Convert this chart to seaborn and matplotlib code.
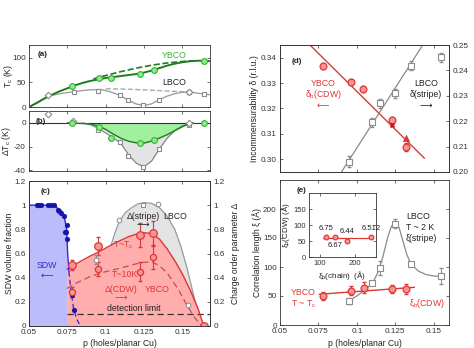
import numpy as np
import pandas as pd
import matplotlib
matplotlib.use('Agg')
import matplotlib.pyplot as plt
import seaborn as sns

# ---------------- data ----------------
# (a) Tc vs p
a_yb_p = [0.078, 0.0956, 0.1037, 0.1224, 0.1316, 0.1638]
a_yb_tc = [42, 59, 58, 68, 75, 94]
a_lb_p = [0.0793, 0.0952, 0.1093, 0.1146, 0.1246, 0.1348, 0.1544, 0.1638]
a_lb_tc = [30.6, 32, 24, 13.7, 3.5, 15, 30.6, 26]
a_dia_p = [0.0623, 0.1544]
a_dia_tc = [24, 30.6]
a_ybline_p = [0.05, 0.055, 0.06, 0.065, 0.07, 0.075, 0.08, 0.085, 0.09, 0.095, 0.1, 0.105, 0.11,
              0.115, 0.12, 0.125, 0.13, 0.135, 0.14, 0.145, 0.15, 0.155, 0.16, 0.165, 0.168]
a_ybline_tc = [0, 8, 17, 25, 32, 38, 44, 49, 53, 56, 59, 61, 63, 65, 67, 70, 74, 79, 84, 88, 91, 93, 94, 94, 93]
a_ybdash_p = [0.092, 0.1, 0.11, 0.12, 0.13, 0.14, 0.15, 0.157]
a_ybdash_tc = [57, 64, 72, 79, 85, 89.5, 92.5, 94]
a_lbline_p = [0.05, 0.056, 0.0623, 0.07, 0.079, 0.085, 0.09, 0.097, 0.103, 0.109, 0.115, 0.12, 0.125,
              0.13, 0.135, 0.14, 0.145, 0.15, 0.155, 0.16, 0.168]
a_lbline_tc = [0, 11, 22, 27, 31, 33.5, 35, 35.5, 31, 24, 13.5, 6, 3, 6.5, 15, 22, 27, 30, 30.5, 28, 25]
a_lbdash_p = [0.1, 0.11, 0.12, 0.13, 0.14, 0.15, 0.155]
a_lbdash_tc = [37, 36.5, 35.5, 34, 32.5, 31, 30.5]

# (b) Delta Tc vs p
b_yb_p = [0.078, 0.0956, 0.1037, 0.1224, 0.1316, 0.1638]
b_yb_dtc = [0, -3.7, -12.6, -17.1, -14.3, 0]
b_lb_p = [0.0952, 0.1093, 0.1146, 0.1246, 0.1348, 0.1544]
b_lb_dtc = [-5.6, -16.3, -27.5, -37.3, -21.8, -1.4]
b_dia_p = [0.0623, 0.079, 0.1544]
b_dia_dtc = [7.6, 2, 0]
b_ybline_p = [0.075, 0.085, 0.09, 0.095, 0.1, 0.105, 0.11, 0.115, 0.12, 0.125, 0.13, 0.135, 0.14,
              0.145, 0.15, 0.155, 0.157]
b_ybline_d = [0, -0.5, -1, -2.5, -5.5, -9.5, -13, -15.5, -16.8, -17, -15.3, -12.8, -10, -6.5, -3.2, -0.5, 0]
b_lbline_p = [0.085, 0.09, 0.095, 0.1, 0.105, 0.11, 0.115, 0.12, 0.125, 0.13, 0.135, 0.14, 0.145,
              0.15, 0.155, 0.157]
b_lbline_d = [0, -1.5, -4.5, -8.5, -12.5, -17.5, -27, -34, -37, -32, -22, -13, -6.5, -2.5, -0.3, 0]

# (c) SDW volume fraction and charge order parameter
c_sdw_p = [0.0555, 0.0565, 0.0575, 0.0625, 0.0645, 0.0665, 0.0691, 0.0697, 0.0706, 0.0728,
           0.0747, 0.0736, 0.0744, 0.0747, 0.0778, 0.0793]
c_sdw_v = [1, 1, 1, 1, 1, 1, 0.964, 0.948, 0.936, 0.911, 0.834, 0.779, 0.779, 0.724, 0.26, 0.136]
c_sdwline_p = [0.05, 0.0665, 0.069, 0.071, 0.073, 0.0745, 0.0752, 0.076]
c_sdwline_v = [1, 1, 0.97, 0.935, 0.905, 0.8, 0.6, 0.45]
c_sdwdash_p = [0.076, 0.0775, 0.079, 0.081, 0.0835]
c_sdwdash_v = [0.45, 0.28, 0.15, 0.06, 0]
c_tc_line_p = [0.0747, 0.08, 0.085, 0.09, 0.095, 0.1, 0.105, 0.11, 0.115, 0.12, 0.125, 0.13, 0.135,
               0.14, 0.146, 0.15, 0.155, 0.16, 0.164]
c_tc_line_v = [0.47, 0.51, 0.545, 0.58, 0.61, 0.645, 0.68, 0.71, 0.74, 0.76, 0.772, 0.765, 0.72,
               0.64, 0.52, 0.43, 0.3, 0.15, 0]
c_10k_line_p = [0.0747, 0.08, 0.085, 0.09, 0.095, 0.1, 0.11, 0.12, 0.125, 0.13, 0.135, 0.14, 0.147,
                0.153, 0.158, 0.1625]
c_10k_line_v = [0.31, 0.35, 0.38, 0.41, 0.43, 0.45, 0.48, 0.515, 0.527, 0.53, 0.5, 0.44, 0.31, 0.17, 0.07, 0]
c_str_line_p = [0.097, 0.1, 0.103, 0.106, 0.109, 0.113, 0.117, 0.121, 0.125, 0.13, 0.135, 0.14,
                0.145, 0.149, 0.153, 0.157, 0.1605, 0.162]
c_str_line_v = [0.45, 0.56, 0.65, 0.77, 0.87, 0.94, 0.98, 1.01, 1.022, 1.015, 0.98, 0.91, 0.8, 0.66,
                0.48, 0.27, 0.1, 0]
c_tc_p = [0.0778, 0.0951, 0.1223, 0.131, 0.164]
c_tc_v = [0.503, 0.663, 0.751, 0.766, 0.0]
c_tc_err = [0.04, 0.075, 0.1, 0.1, 0.0]
c_10k_p = [0.0778, 0.0951, 0.1223, 0.131]
c_10k_v = [0.282, 0.47, 0.45, 0.57]
c_10k_err = [0.04, 0.06, 0.08, 0.1]
c_str_circ_p = [0.094, 0.1088, 0.1338, 0.1537]
c_str_circ_v = [0.55, 0.88, 1.01, 0.17]
c_str_sq_p = [0.1244]
c_str_sq_v = [1.0]
c_detect = 0.1

# (d) incommensurability
d_yb_p = [0.078, 0.096, 0.104, 0.123]
d_yb_d = [0.3367, 0.3304, 0.3278, 0.3154]
d_yb_err = [0.0012, 0.0012, 0.0012, 0.0012]
d_yb2_p = [0.1317]
d_yb2_d = [0.3049]
d_ybx_p = [0.123]
d_ybx_d = [0.3137]
d_ybtri_p = [0.1317]
d_ybtri_d = [0.3082]
d_ybfit_p = [0.068, 0.144]
d_ybfit_d = [0.3459, 0.3004]
d_lb_p = [0.095, 0.11, 0.115, 0.125, 0.135, 0.155]
d_lb_d = [0.2041, 0.2196, 0.227, 0.231, 0.2419, 0.2452]
d_lb_err = [0.0022, 0.0018, 0.0018, 0.0018, 0.0018, 0.0018]
d_lbfit_p = [0.090, 0.1429]
d_lbfit_d = [0.20, 0.25]

# (e) correlation length
e_yb_p = [0.078, 0.096, 0.1045, 0.123, 0.1317]
e_yb_xi = [50.7, 59.3, 64.5, 62.3, 62.3]
e_yb_err = [7, 8, 9, 7, 9]
e_ybfit_p = [0.0756, 0.1375]
e_ybfit_xi = [53, 65]
e_lb_p = [0.095, 0.110, 0.115, 0.125, 0.135, 0.155]
e_lb_xi = [41.5, 73, 99, 174.7, 105.5, 85]
e_lb_err = [5, 3, 12, 8, 3, 14]
e_lbline_p = [0.095, 0.1, 0.104, 0.108, 0.111, 0.114, 0.117, 0.12, 0.1225, 0.125, 0.1275, 0.13,
              0.1325, 0.135, 0.14, 0.145, 0.15, 0.155]
e_lbline_xi = [42, 50, 58, 67, 76, 92, 118, 150, 170, 176, 168, 145, 122, 106, 93, 87, 84.5, 84]
ins_chain = [119, 145, 178, 245]
ins_cdw = [62, 62, 51, 62]
ins_labels = ['6.75', '6.67', '6.44', '6.512']
ins_fit_x = [111, 248]
ins_fit_y = [60, 60]

p_ticks = [0.05, 0.075, 0.1, 0.125, 0.15]
p_ticklabels = ['0.05', '0.075', '0.1', '0.125', '0.15']

# ---------------- style ----------------
sns.set_style('ticks')
plt.rcParams['font.family'] = ['Liberation Sans', 'DejaVu Sans']
plt.rcParams['mathtext.fontset'] = 'custom'
plt.rcParams['mathtext.rm'] = 'Liberation Sans'
plt.rcParams['mathtext.it'] = 'Liberation Sans:italic'
plt.rcParams['axes.unicode_minus'] = False
plt.rcParams['font.size'] = 6
for k in ['xtick', 'ytick']:
    plt.rcParams[k + '.direction'] = 'in'
    plt.rcParams[k + '.major.size'] = 2.2
    plt.rcParams[k + '.major.width'] = 0.5
    plt.rcParams[k + '.labelsize'] = 5.9
    plt.rcParams[k + '.major.pad'] = 2.3
    plt.rcParams[k + '.color'] = '#333333'
plt.rcParams['axes.linewidth'] = 0.6
plt.rcParams['axes.edgecolor'] = '#333333'
plt.rcParams['axes.labelsize'] = 6.2
plt.rcParams['text.color'] = '#222222'
plt.rcParams['axes.labelcolor'] = '#222222'

FS = 6.3
GREEN_LINE = '#1e7d1e'
GREEN = '#2fb52f'
GREEN_FACE = '#90ea90'
GREEN_FILL = '#a0f0a0'
GRAY = '#8c8c8c'
GRAY_FILL = '#e4e4e4'
RED = '#e03535'
RED_FACE = '#f59595'
PINK = '#ffadad'
BLUE_FILL = '#bcbcfb'
BLUE = '#1414a8'
BLUE_LINE = '#2a2ad0'

W, H = 474, 348
fig = plt.figure(figsize=(W / 100, H / 100), dpi=100)


def ax_at(l, t, r, b):
    return fig.add_axes([l / W, 1 - b / H, (r - l) / W, (b - t) / H])


def line(ax, x, y, color, lw=1.0, ls='-', z=3):
    sns.lineplot(x=x, y=y, ax=ax, color=color, lw=lw, linestyle=ls, estimator=None,
                 sort=False, zorder=z)


def pts(ax, x, y, marker, face, edge, s=16, lw=0.8, z=5):
    sns.scatterplot(x=x, y=y, ax=ax, marker=marker, s=s, color=face, edgecolor=edge,
                    linewidth=lw, zorder=z, legend=False)


def boxed(ax):
    ax.tick_params(top=True, right=True)


# ---------------- (a) ----------------
axa = ax_at(29, 45, 210, 107)
line(axa, a_lbdash_p, a_lbdash_tc, '#aaaaaa', 1.0, '--')
line(axa, a_lbline_p, a_lbline_tc, '#a0a0a0', 1.0)
line(axa, a_ybdash_p, a_ybdash_tc, GREEN_LINE, 1.2, '--')
line(axa, a_ybline_p, a_ybline_tc, GREEN_LINE, 1.4)
pts(axa, a_lb_p, a_lb_tc, 's', 'white', GRAY, s=12)
pts(axa, a_dia_p, a_dia_tc, 'D', 'white', GRAY, s=11)
pts(axa, a_yb_p, a_yb_tc, 'o', GREEN_FACE, GREEN, s=17)
axa.set_xlim(0.05, 0.168)
axa.set_ylim(0, 126)
axa.set_yticks([0, 50, 100])
axa.set_xticks(p_ticks)
axa.set_xticklabels([])
axa.set_xlabel('')
axa.set_ylabel('T$_\\mathrm{c}$ (K)')
axa.yaxis.set_label_coords(-0.08, 0.5)
boxed(axa)
axa.text(0.05, 0.84, '(a)', transform=axa.transAxes, fontsize=5.8, fontweight='bold', va='center')
axa.text(0.1446, 105.5, 'YBCO', color=GREEN, ha='center', va='center', fontsize=FS)
axa.text(0.1446, 49, 'LBCO', color='#222222', ha='center', va='center', fontsize=FS)

# ---------------- (b) ----------------
axb = ax_at(29, 111, 210, 171)
axb.fill_between(b_lbline_p, 0, b_lbline_d, color=GRAY_FILL, lw=0, zorder=1)
axb.fill_between(b_ybline_p, 0, b_ybline_d, color=GREEN_FILL, lw=0, zorder=2)
axb.axhline(0, color='#333333', lw=0.8, zorder=3)
line(axb, b_lbline_p, b_lbline_d, '#888888', 0.9)
line(axb, b_ybline_p, b_ybline_d, GREEN_LINE, 1.0)
pts(axb, b_lb_p, b_lb_dtc, 's', 'white', GRAY, s=12)
pts(axb, b_dia_p, b_dia_dtc, 'D', 'white', GRAY, s=11)
pts(axb, b_yb_p, b_yb_dtc, 'o', GREEN_FACE, GREEN, s=17)
axb.set_xlim(0.05, 0.168)
axb.set_ylim(-40.5, 10)
axb.set_yticks([-40, -20, 0])
axb.set_xticks(p_ticks)
axb.set_xticklabels([])
axb.set_xlabel('')
axb.set_ylabel('ΔT$_\\mathrm{c}$ (K)')
axb.yaxis.set_label_coords(-0.09, 0.5)
boxed(axb)
axb.text(0.035, 0.83, '(b)', transform=axb.transAxes, fontsize=5.8, fontweight='bold', va='center')

# ---------------- (c) ----------------
axc = ax_at(29, 181, 210, 326)
axc.fill_between(c_str_line_p, 0, c_str_line_v, color=GRAY_FILL, lw=0, zorder=1)
line(axc, c_str_line_p, c_str_line_v, '#999999', 0.9, z=1.5)
axc.fill_between(c_tc_line_p, 0, c_tc_line_v, color=PINK, lw=0, zorder=2)
axc.fill_between(c_sdwline_p[:6] + [0.0748], 0, c_sdwline_v[:6] + [0.78], color=BLUE_FILL, lw=0, zorder=2)
axc.plot([0.075, 0.168], [c_detect, c_detect], color='#333333', lw=0.9, ls=(0, (5, 3)), zorder=3)
line(axc, c_10k_line_p, c_10k_line_v, '#c05050', 0.9, (0, (5, 3)), z=3)
line(axc, c_tc_line_p, c_tc_line_v, RED, 1.0, z=3)
line(axc, c_sdwline_p, c_sdwline_v, BLUE_LINE, 1.0, z=3)
line(axc, c_sdwdash_p, c_sdwdash_v, BLUE_LINE, 0.9, (0, (4, 2.5)), z=3)
pts(axc, c_sdw_p, c_sdw_v, 'o', BLUE, BLUE, s=12, lw=0.3)
axc.errorbar(c_tc_p, c_tc_v, yerr=c_tc_err, fmt='none', ecolor=RED, elinewidth=0.8, capsize=1.5, zorder=4)
axc.errorbar(c_10k_p, c_10k_v, yerr=c_10k_err, fmt='none', ecolor=RED, elinewidth=0.8, capsize=1.5, zorder=4)
axc.errorbar([c_str_circ_p[0]], [c_str_circ_v[0]], yerr=[0.04], fmt='none', ecolor=GRAY, elinewidth=0.7, capsize=1.2, zorder=4)
pts(axc, c_tc_p, c_tc_v, 'o', RED_FACE, RED, s=30, lw=0.9)
pts(axc, c_10k_p, c_10k_v, 'o', RED_FACE, RED, s=20, lw=0.9)
pts(axc, c_str_circ_p, c_str_circ_v, 'o', 'white', GRAY, s=11, lw=0.7)
pts(axc, c_str_sq_p, c_str_sq_v, 's', 'white', GRAY, s=11, lw=0.7)
axc.set_xlim(0.05, 0.168)
axc.set_ylim(0, 1.2)
axc.set_yticks([0, 0.2, 0.4, 0.6, 0.8, 1.0, 1.2])
axc.set_yticklabels(['0', '0.2', '0.4', '0.6', '0.8', '1', '1.2'])
axc.set_xticks(p_ticks)
axc.set_xticklabels(p_ticklabels)
axc.set_xlabel('p (holes/planar Cu)')
axc.set_ylabel('SDW volume fraction')
axc.yaxis.set_label_coords(-0.085, 0.5)
axc.xaxis.set_label_coords(0.5, -0.09)
axc.tick_params(top=True)
axc2 = axc.twinx()
axc2.set_ylim(0, 1.2)
axc2.set_yticks([0, 0.2, 0.4, 0.6, 0.8, 1.0, 1.2])
axc2.set_yticklabels(['0', '0.2', '0.4', '0.6', '0.8', '1', '1.2'])
axc2.set_ylabel('Charge order parameter Δ')
axc2.yaxis.set_label_coords(1.115, 0.5)
axc.text(0.065, 0.93, '(c)', transform=axc.transAxes, fontsize=5.8, fontweight='bold', va='center')
axc.text(0.0615, 0.50, 'SDW', color='#2a2ad0', ha='center', va='center', zorder=6, fontsize=FS)
axc.text(0.0615, 0.42, '⟵', color='#2a2ad0', ha='center', va='center', zorder=6, fontsize=FS)
axc.text(0.1244, 0.905, 'Δ(stripe)', color='#222222', ha='center', va='center', zorder=6, fontsize=FS)
axc.text(0.1244, 0.84, '⟶', color='#222222', ha='center', va='center', zorder=6, fontsize=FS)
axc.text(0.1455, 0.905, 'LBCO', color='#222222', ha='center', va='center', zorder=6, fontsize=FS)
axc.text(0.1114, 0.67, 'T~T$_\\mathrm{c}$', color=RED, ha='center', va='center', zorder=6, fontsize=FS)
axc.text(0.1125, 0.43, 'T~10K', color=RED, ha='center', va='center', zorder=6, fontsize=FS)
axc.text(0.110, 0.30, 'Δ(CDW)', color=RED, ha='center', va='center', zorder=6, fontsize=FS)
axc.text(0.1335, 0.30, 'YBCO', color=RED, ha='center', va='center', zorder=6, fontsize=FS)
axc.text(0.110, 0.235, '⟶', color=RED, ha='center', va='center', zorder=6, fontsize=FS)
axc.text(0.1181, 0.145, 'detection limit', color='#222222', ha='center', va='center', zorder=6, fontsize=FS)

# ---------------- (d) ----------------
axd = ax_at(280, 45, 449, 172)
axd2 = axd.twinx()
line(axd, d_ybfit_p, d_ybfit_d, '#c84040', 1.0, z=2)
axd.errorbar(d_yb_p + d_yb2_p, d_yb_d + d_yb2_d, yerr=d_yb_err + [0.0015], fmt='none', ecolor=RED,
             elinewidth=0.8, capsize=1.2, zorder=4)
pts(axd, d_yb_p + d_yb2_p, d_yb_d + d_yb2_d, 'o', RED_FACE, RED, s=24, lw=0.9)
pts(axd, d_ybx_p, d_ybx_d, 'X', '#c02020', '#c02020', s=12, lw=0.3)
pts(axd, d_ybtri_p, d_ybtri_d, '^', RED, RED, s=20, lw=0.5)
axd.set_xlim(0.05, 0.16)
axd.set_ylim(0.295, 0.345)
axd.set_yticks([0.30, 0.31, 0.32, 0.33, 0.34])
axd.set_yticklabels(['0.30', '0.31', '0.32', '0.33', '0.34'])
axd.set_xticks(p_ticks)
axd.set_xticklabels([])
axd.set_xlabel('')
axd.set_ylabel('Incommensurability δ (r.l.u.)')
axd.yaxis.set_label_coords(-0.125, 0.5)
axd.tick_params(top=True)
line(axd2, d_lbfit_p, d_lbfit_d, '#8a8a8a', 0.9, z=2)
axd2.errorbar(d_lb_p, d_lb_d, yerr=d_lb_err, fmt='none', ecolor=GRAY, elinewidth=0.7, capsize=1.2, zorder=4)
pts(axd2, d_lb_p, d_lb_d, 's', 'white', GRAY, s=15, lw=0.8)
axd2.set_ylim(0.20, 0.25)
axd2.set_yticks([0.20, 0.21, 0.22, 0.23, 0.24, 0.25])
axd2.set_yticklabels(['0.20', '0.21', '0.22', '0.23', '0.24', '0.25'])
axd2.set_ylabel('')
axd.text(0.07, 0.87, '(d)', transform=axd.transAxes, fontsize=5.8, fontweight='bold', va='center')
axd.text(0.256, 0.70, 'YBCO', transform=axd.transAxes, color=RED, ha='center', va='center', fontsize=FS)
axd.text(0.256, 0.61, 'δ$_\\mathrm{b}$(CDW)', transform=axd.transAxes, color=RED, ha='center', va='center', fontsize=FS)
axd.text(0.256, 0.53, '⟵', transform=axd.transAxes, color=RED, ha='center', va='center', fontsize=FS)
axd.text(0.865, 0.70, 'LBCO', transform=axd.transAxes, color='#222222', ha='center', va='center', fontsize=FS)
axd.text(0.865, 0.61, 'δ(stripe)', transform=axd.transAxes, color='#222222', ha='center', va='center', fontsize=FS)
axd.text(0.865, 0.53, '⟶', transform=axd.transAxes, color='#222222', ha='center', va='center', fontsize=FS)

# ---------------- (e) ----------------
axe = ax_at(280, 180, 449, 325)
line(axe, e_lbline_p, e_lbline_xi, '#8a8a8a', 0.9, z=2)
line(axe, e_ybfit_p, e_ybfit_xi, RED, 1.0, z=2)
axe.errorbar(e_lb_p, e_lb_xi, yerr=e_lb_err, fmt='none', ecolor=GRAY, elinewidth=0.7, capsize=1.2, zorder=4)
pts(axe, e_lb_p, e_lb_xi, 's', 'white', GRAY, s=14, lw=0.8)
axe.errorbar(e_yb_p, e_yb_xi, yerr=e_yb_err, fmt='none', ecolor=RED, elinewidth=0.8, capsize=1.2, zorder=4)
pts(axe, e_yb_p, e_yb_xi, 'o', RED_FACE, RED, s=24, lw=0.9)
axe.set_xlim(0.05, 0.16)
axe.set_ylim(0, 250)
axe.set_yticks([0, 50, 100, 150, 200])
axe.set_xticks(p_ticks)
axe.set_xticklabels(p_ticklabels)
axe.set_xlabel('p (holes/planar Cu)')
axe.set_ylabel('Correlation length ξ (Å)')
axe.yaxis.set_label_coords(-0.105, 0.5)
axe.xaxis.set_label_coords(0.5, -0.095)
boxed(axe)
axe.text(0.1, 0.93, '(e)', transform=axe.transAxes, fontsize=5.8, fontweight='bold', va='center')
axe.text(0.745, 0.745, 'LBCO', transform=axe.transAxes, color='#222222', ha='left', va='center', fontsize=FS)
axe.text(0.745, 0.67, 'T ~ 2 K', transform=axe.transAxes, color='#222222', ha='left', va='center', fontsize=FS)
axe.text(0.745, 0.595, 'ξ(stripe)', transform=axe.transAxes, color='#222222', ha='left', va='center', fontsize=FS)
axe.text(0.065, 0.223, 'YBCO', transform=axe.transAxes, color=RED, ha='left', va='center', fontsize=FS)
axe.text(0.065, 0.143, 'T ~ T$_\\mathrm{c}$', transform=axe.transAxes, color=RED, ha='left', va='center', fontsize=FS)
axe.text(0.87, 0.15, 'ξ$_\\mathrm{b}$(CDW)', transform=axe.transAxes, color=RED, ha='center', va='center', fontsize=FS)

# inset
axi = ax_at(309, 193, 376, 257)
line(axi, ins_fit_x, ins_fit_y, RED, 0.9, z=2)
axi.errorbar(ins_chain, ins_cdw, yerr=[5] * 4, xerr=[5] * 4, fmt='none', ecolor=RED, elinewidth=0.7, zorder=4)
pts(axi, ins_chain, ins_cdw, 'o', RED_FACE, RED, s=12, lw=0.8)
label_dy = [28, -27, 28, 28]
for xv, yv, lab, dy in zip(ins_chain, ins_cdw, ins_labels, label_dy):
    axi.text(xv, yv + dy, lab, ha='center', va='center', fontsize=5.5, color='#222222')
axi.set_xlim(70, 260)
axi.set_ylim(0, 200)
axi.set_xticks([100, 200])
axi.set_yticks([0, 50, 100, 150])
axi.tick_params(labelsize=5.5, top=True, right=True)
axi.set_xlabel('ξ$_\\mathrm{b}$(chain)  (Å)', fontsize=5.8, labelpad=1)
axi.set_ylabel('ξ$_\\mathrm{b}$(CDW) (Å)', fontsize=5.8, labelpad=1)

fig.savefig('out.png', dpi=100)
